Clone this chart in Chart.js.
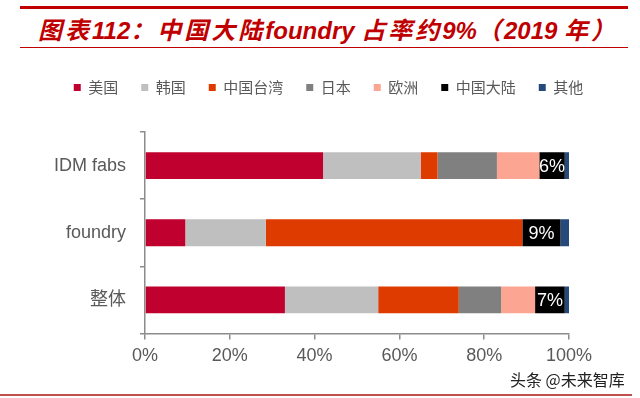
<!DOCTYPE html>
<html>
<head>
<meta charset="utf-8">
<script src="https://cdn.jsdelivr.net/npm/chart.js@4.4.0/dist/chart.umd.min.js"></script>
<style>
  body { margin: 0; width: 640px; height: 398px; background: #fff; position: relative; overflow: hidden; }
  .topline { position: absolute; left: 20px; width: 608px; top: 6px; height: 3px; background: #c00000; }
  .title { position: absolute; left: 38px; top: 11px; font: italic bold 24px "Liberation Sans", "Noto Sans CJK SC", sans-serif; color: #c00000; white-space: nowrap; }
  .title .cj { letter-spacing: 3px; }
  .subline { position: absolute; left: 20px; width: 608px; top: 47px; height: 1px; background: #c00000; }
  .bottomline { position: absolute; left: 0; width: 632px; top: 394px; height: 2px; background: #c0504d; }
  .mark { position: absolute; left: 510px; top: 367px; font: 16px "Noto Sans CJK SC", sans-serif; color: #222; }
  #wrap { position: absolute; left: 0; top: 56px; width: 640px; height: 323px; }
</style>
</head>
<body>
<div class="topline"></div>
<div class="title"><span class="cj">图表</span>112<span class="cj">：中国大陆</span>foundry <span class="cj">占率约</span>9%<span class="cj">（</span>2019 <span class="cj">年）</span></div>
<div class="subline"></div>
<div id="wrap"><canvas id="chart"></canvas></div>
<div class="mark">头条 @未来智库</div>
<div class="bottomline"></div>
<script>
const categories = ["IDM fabs", "foundry", "整体"];
const regions = ["美国", "韩国", "中国台湾", "日本", "欧洲", "中国大陆", "其他"];
const colors = ["#c0002f", "#bfbfbf", "#de3b00", "#808080", "#fca592", "#000000", "#24497a"];

// share (%) per region, one value per category
const usa = [42, 9.5, 33];
const korea = [23, 19, 22];
const taiwan = [4, 60.5, 19];
const japan = [14, 0, 10];
const europe = [10, 0, 8];
const mainland = [6, 9, 7];
const others = [1, 2, 1];
const xTicks = [0, 20, 40, 60, 80, 100];

const seriesValues = [usa, korea, taiwan, japan, europe, mainland, others];

const labelPlugin = {
  id: "mainlandLabels",
  afterDatasetsDraw(chart) {
    const idx = regions.indexOf("中国大陆");
    const meta = chart.getDatasetMeta(idx);
    const ctx = chart.ctx;
    ctx.save();
    ctx.fillStyle = "#fff";
    ctx.font = "18px 'Liberation Sans', Arial, sans-serif";
    ctx.textAlign = "center";
    ctx.textBaseline = "middle";
    meta.data.forEach((bar, i) => {
      const p = bar.getProps(["x", "y", "base"], true);
      ctx.fillText(Math.round(mainland[i]) + "%", (p.x + p.base) / 2, p.y + 1);
    });
    ctx.restore();
  }
};

// more room under the legend, and move it right to sit over the page centre
const legendPlace = {
  id: "legendPlace",
  beforeInit(chart) {
    const legend = chart.legend;
    const fit = legend.fit;
    legend.fit = function () {
      fit.call(this);
      this.height += 27;
    };
  },
  afterLayout(chart) {
    chart.legend.left += 44;
    chart.legend.right += 44;
  }
};

new Chart(document.getElementById("chart"), {
  type: "bar",
  data: {
    labels: categories,
    datasets: regions.map((r, i) => ({
      label: r,
      data: seriesValues[i],
      backgroundColor: colors[i],
      borderWidth: 0,
      categoryPercentage: 1,
      barPercentage: 0.4
    }))
  },
  options: {
    indexAxis: "y",
    responsive: true,
    maintainAspectRatio: false,
    animation: false,
    layout: { padding: { left: 0, right: 71, top: 1, bottom: 6 } },
    plugins: {
      tooltip: { enabled: false },
      legend: {
        position: "top",
        labels: {
          boxWidth: 7,
          boxHeight: 7,
          padding: 23,
          color: "#595959",
          font: { size: 15, family: "'Noto Sans CJK SC', sans-serif" }
        }
      }
    },
    scales: {
      x: {
        stacked: true,
        min: 0,
        max: 100,
        afterBuildTicks: (axis) => { axis.ticks = xTicks.map(v => ({ value: v })); },
        ticks: {
          callback: (v) => v + "%",
          color: "#595959",
          padding: 6,
          maxRotation: 0,
          font: { size: 18, family: "'Liberation Sans', Arial, sans-serif" }
        },
        grid: { drawOnChartArea: false, drawTicks: true, tickLength: 6, color: "#8c8c8c", lineWidth: 1.5 },
        border: { color: "#8c8c8c", width: 1.5 }
      },
      y: {
        stacked: true,
        afterFit: (axis) => { axis.width = 145; },
        ticks: {
          color: "#595959",
          padding: 14,
          font: { size: 18, family: "'Liberation Sans', 'Noto Sans CJK SC', sans-serif" }
        },
        grid: { drawOnChartArea: false, drawTicks: true, tickLength: 5, offset: true, color: "#8c8c8c", lineWidth: 1.5 },
        border: { color: "#8c8c8c", width: 1.5 }
      }
    }
  },
  plugins: [labelPlugin, legendPlace]
});
</script>
</body>
</html>
